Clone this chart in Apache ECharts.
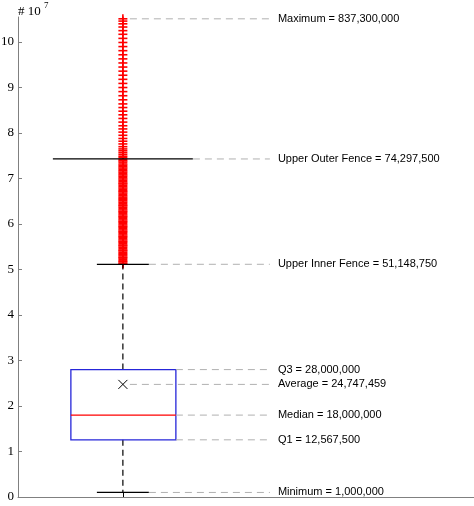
<!DOCTYPE html>
<html>
<head>
<meta charset="utf-8">
<script src="https://cdn.jsdelivr.net/npm/echarts@6/dist/echarts.min.js"></script>
<style>
  html, body { margin: 0; padding: 0; background: #fff; }
  #chart { width: 474px; height: 506px; }
</style>
</head>
<body>
<div id="chart"></div>
<script>
  // summary statistics (raw values)
  var statNames = ['Maximum', 'Upper Outer Fence', 'Upper Inner Fence', 'Q3', 'Average', 'Median', 'Q1', 'Minimum'];
  var statValues = [837300000, 74297500, 51148750, 28000000, 24747459, 18000000, 12567500, 1000000];

  // outliers above the upper inner fence, in units of 10^7 (only the visible part of the axis)
  var outliers = [
    5.12, 5.14, 5.17, 5.19, 5.22, 5.25, 5.27, 5.30, 5.33, 5.35, 5.38, 5.41, 5.43, 5.46, 5.49,
    5.52, 5.54, 5.57, 5.60, 5.62, 5.65, 5.68, 5.71, 5.73, 5.76, 5.79, 5.82, 5.84, 5.87, 5.90,
    5.93, 5.95, 5.98, 6.01, 6.04, 6.06, 6.09, 6.12, 6.15, 6.17, 6.20, 6.23, 6.26, 6.28, 6.31,
    6.34, 6.37, 6.40, 6.42, 6.45, 6.48, 6.51, 6.54, 6.56, 6.59, 6.62, 6.65, 6.68, 6.71, 6.73,
    6.76, 6.79, 6.82, 6.85, 6.88, 6.90, 6.93, 6.96, 6.99, 7.02, 7.05, 7.08, 7.11, 7.14, 7.17,
    7.20, 7.23, 7.26, 7.29, 7.32, 7.36, 7.39, 7.42, 7.46, 7.49, 7.53, 7.57, 7.61, 7.65,
    7.70, 7.76, 7.82, 7.88, 7.95, 8.02, 8.09, 8.16, 8.24, 8.32, 8.40, 8.48, 8.56, 8.64, 8.73,
    8.82, 8.91, 9.00, 9.09, 9.18, 9.27, 9.36, 9.45, 9.54, 9.63, 9.72, 9.81, 9.90, 9.99,
    10.08, 10.17, 10.25, 10.33, 10.40, 10.46, 10.51
  ];

  var yTicks = [0, 1, 2, 3, 4, 5, 6, 7, 8, 9, 10];
  var SCALE = 1e7;
  var BOX_X = 0.23;

  function fmt(v) {
    return v.toLocaleString('en-US');
  }

  var myChart = echarts.init(document.getElementById('chart'));

  function renderBox(params, api) {
    var c = api.coord([BOX_X, 0])[0];
    function y(v) { return api.coord([BOX_X, v])[1]; }
    var st = {};
    statNames.forEach(function (n, i) { st[n] = statValues[i] / SCALE; });
    var topOut = Math.max.apply(null, outliers);
    var kids = [];

    // outliers
    outliers.forEach(function (v) {
      var py = y(v);
      kids.push({ type: 'line', shape: { x1: c - 4.5, y1: py, x2: c + 4.5, y2: py }, style: { stroke: '#ff0000', lineWidth: 1.6 } });
      kids.push({ type: 'line', shape: { x1: c, y1: py - 4.5, x2: c, y2: py + 4.5 }, style: { stroke: '#ff0000', lineWidth: 1.6 } });
    });

    var dash = { stroke: '#000', lineWidth: 1.2, lineDash: [6, 4] };
    var solid = { stroke: '#000', lineWidth: 1.3 };
    // whiskers
    kids.push({ type: 'line', shape: { x1: c, y1: y(st['Q1']), x2: c, y2: y(st['Minimum']) }, style: dash });
    kids.push({ type: 'line', shape: { x1: c, y1: y(st['Q3']), x2: c, y2: y(st['Upper Inner Fence']) }, style: dash });
    kids.push({ type: 'line', shape: { x1: c - 26, y1: y(st['Minimum']), x2: c + 26, y2: y(st['Minimum']) }, style: solid });
    kids.push({ type: 'line', shape: { x1: c - 26, y1: y(st['Upper Inner Fence']), x2: c + 26, y2: y(st['Upper Inner Fence']) }, style: solid });
    kids.push({ type: 'line', shape: { x1: c - 70, y1: y(st['Upper Outer Fence']), x2: c + 70, y2: y(st['Upper Outer Fence']) }, style: solid });

    // box and median
    kids.push({ type: 'rect', shape: { x: c - 52, y: y(st['Q3']), width: 105, height: y(st['Q1']) - y(st['Q3']) },
      style: { fill: 'none', stroke: '#2626d9', lineWidth: 1.3 } });
    kids.push({ type: 'line', shape: { x1: c - 52, y1: y(st['Median']), x2: c + 53, y2: y(st['Median']) }, style: { stroke: '#ff0000', lineWidth: 1.2 } });

    // average marker
    var ay = y(st['Average']);
    kids.push({ type: 'line', shape: { x1: c - 4.5, y1: ay - 4.5, x2: c + 4.5, y2: ay + 4.5 }, style: { stroke: '#000', lineWidth: 1 } });
    kids.push({ type: 'line', shape: { x1: c - 4.5, y1: ay + 4.5, x2: c + 4.5, y2: ay - 4.5 }, style: { stroke: '#000', lineWidth: 1 } });

    // reference lines and labels
    var starts = { 'Maximum': 7, 'Upper Outer Fence': 70, 'Upper Inner Fence': 26, 'Q3': 53, 'Average': 7, 'Median': 53, 'Q1': 53, 'Minimum': 26 };
    statNames.forEach(function (n, i) {
      var v = n === 'Maximum' ? topOut : st[n];
      var py = y(v);
      kids.push({ type: 'line', shape: { x1: c + starts[n], y1: py, x2: c + 147, y2: py },
        style: { stroke: '#b0b0b0', lineWidth: 1, lineDash: [7, 5] } });
      kids.push({ type: 'text', x: c + 155, y: py,
        style: { text: n + ' = ' + fmt(statValues[i]), font: '11px "Liberation Sans", Arial, sans-serif', fill: '#000', verticalAlign: 'middle', align: 'left' } });
    });

    return { type: 'group', children: kids };
  }

  var option = {
    backgroundColor: '#fff',
    animation: false,
    grid: {
      left: 18,
      right: 0,
      top: 17,
      bottom: 9,
      containLabel: false,
      outerBoundsMode: 'none'
    },
    graphic: [
      { type: 'text', left: 18, top: 5, style: { text: '# 10', font: '13px "Liberation Serif", serif', fill: '#000' } },
      { type: 'text', left: 44, top: 1, style: { text: '7', font: '9px "Liberation Serif", serif', fill: '#000' } }
    ],
    xAxis: {
      type: 'value',
      min: 0,
      max: 1,
      splitLine: { show: false },
      axisLine: { show: true, lineStyle: { color: '#808080' } },
      axisTick: { show: true, inside: true, length: 5, customValues: [BOX_X], lineStyle: { color: '#000' } },
      axisLabel: { show: false }
    },
    yAxis: {
      type: 'value',
      min: 0,
      max: 10.55,
      interval: 1,
      splitLine: { show: false },
      axisLine: { show: true, lineStyle: { color: '#808080' } },
      axisTick: { show: true, inside: true, length: 4, customValues: yTicks, lineStyle: { color: '#808080' } },
      axisLabel: {
        customValues: yTicks,
        color: '#000',
        fontSize: 13,
        fontFamily: '"Liberation Serif", serif',
        margin: 4
      }
    },
    series: [{
      type: 'custom',
      renderItem: renderBox,
      data: [[BOX_X, 0]],
      silent: true
    }]
  };

  if (option && typeof option === "object") {
    myChart.setOption(option, true);
  }
</script>
</body>
</html>
